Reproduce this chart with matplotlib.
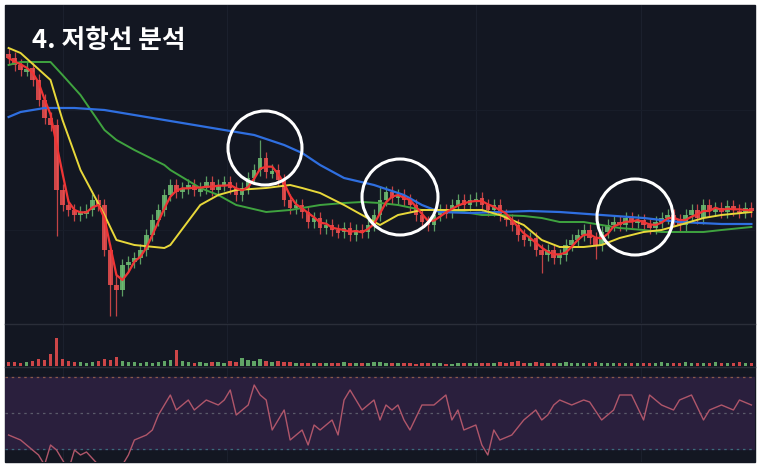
import matplotlib
matplotlib.use("Agg")
import matplotlib.pyplot as plt
import numpy as np
import pandas as pd
from matplotlib.patches import Ellipse

plt.rcParams['font.family'] = ['Noto Sans CJK KR', 'DejaVu Sans']

# close prices (arbitrary units)
close_px = [58,65,70,68,80,100,118,125,190,205,210,215,212,210,200,205,250,285,290,265,
            262,258,250,235,220,210,195,185,192,188,185,190,188,182,190,185,182,188,195,188,
            178,170,158,172,170,180,200,208,205,212,222,218,228,225,230,232,228,235,230,232,
            225,215,200,192,198,195,200,205,215,222,225,215,210,212,205,200,205,200,198,205,
            210,205,215,220,225,235,240,238,250,255,250,258,255,245,240,235,230,238,245,232,
            225,222,225,218,222,220,225,228,222,218,215,220,225,215,210,218,205,210,208,212,
            206,210,212,208,211]
close = [330 - v for v in close_px]
open_ = [close[0] + 4] + close[:-1]
wick_extra = {8: (0, 40), 17: (0, 25), 18: (5, 20), 42: (12, 0), 62: (8, 0), 89: (0, 12), 98: (0, 8)}
volume = [4,4,3,4,5,7,6,12,28,7,5,4,4,3,4,5,7,6,9,5,
          4,4,3,4,3,4,5,6,16,5,4,3,4,3,4,4,3,5,4,8,
          6,5,7,5,4,5,4,4,3,3,3,3,3,3,3,3,4,3,3,3,
          3,4,4,3,3,3,3,3,2,3,3,3,3,2,2,3,3,3,3,3,
          3,3,4,3,4,5,3,3,4,3,3,3,3,4,3,3,3,3,4,3,
          3,3,3,3,3,3,3,3,3,4,3,3,3,4,3,3,3,3,4,3,
          3,3,4,3,3]

# moving averages sampled (candle index, value)
ma_x = [0,2,7,9,12,16,18,21,26,27,32,35,38,43,47,49,52,56,59,62,65,69,72,76,79,82,86,89,92,96,
        99,102,106,109,112,116,119,124]
yellow_px = [48,53,80,120,170,215,240,245,248,245,205,195,190,188,185,188,193,205,215,225,215,210,
             210,210,210,215,225,240,247,247,245,238,232,230,225,218,215,212]
green_px = [65,62,62,75,95,130,140,150,165,170,188,195,205,212,210,208,205,203,202,203,205,210,
            210,212,215,215,216,218,222,222,225,228,230,232,232,232,230,227]
blue_x = [0,2,6,11,16,21,26,31,36,41,46,49,52,56,61,66,69,72,77,82,87,92,99,106,112,119,124]
blue_px = [117,112,108,108,110,115,120,125,130,135,145,153,165,178,185,195,205,212,213,212,211,212,
           215,218,222,224,224]

rsi_x = [0,2,3,5,6,7,8,9,10,11,12,13,15,17,19,20,21,23,24,25,26,27,28,30,31,33,35,36,37,38,40,41,42,43,44,
         46,47,48,49,50,51,52,54,55,56,57,59,61,62,63,64,65,66,67,69,71,72,73,74,75,76,78,79,80,81,82,
         84,86,88,89,90,91,92,94,96,97,99,101,102,104,106,107,109,111,112,114,116,117,119,121,122,124]
rsi_px = [435,440,445,455,465,445,450,460,470,450,455,452,465,470,465,455,440,435,430,415,405,395,410,
          400,410,400,405,400,390,415,405,385,395,400,430,410,440,435,430,445,425,430,420,435,400,390,410,
          400,420,405,410,405,420,430,405,405,400,395,420,410,430,425,445,455,430,440,435,420,410,420,415,
          405,400,405,400,402,420,410,395,395,420,395,405,410,400,395,420,410,405,410,400,405]
rsi = [50 - (p - 413) / 1.8 for p in rsi_px]

W, H = 763, 471
fig = plt.figure(figsize=(W/100, H/100), dpi=100, facecolor='white')
fig.patches.append(plt.Rectangle((5/W, 1-462/H), 750/W, 457/H, transform=fig.transFigure,
                                 color='#131722', zorder=-5))
bg = '#131722'
def ax_at(x0, y0, x1, y1):
    a = fig.add_axes([x0/W, 1-y1/H, (x1-x0)/W, (y1-y0)/H])
    a.set_facecolor(bg)
    a.set_xlim(-0.6, len(close)-0.4)
    for s in a.spines.values():
        s.set_visible(False)
    a.set_xticks([]); a.set_yticks([])
    for gx in [9, 36.5, 78, 105.5]:
        a.axvline(gx, color='#1b202d', lw=0.8, zorder=0)
    return a

ax = ax_at(5, 5, 755, 323)
ax.set_ylim(7, 325)
for gy in [100, 220]:
    ax.axhline(gy, color='#181d29', lw=0.8, zorder=0)
up_c, dn_c = '#6fbf73', '#ef4f4f'
for i in range(len(close)):
    o, c = open_[i], close[i]
    col = up_c if c >= o else dn_c
    eh, el = wick_extra.get(i, (0, 0))
    hi = max(o, c) + 6 + eh
    lo = min(o, c) - 6 - el
    ax.vlines(i, lo, hi, color=col, lw=0.9, alpha=0.8, zorder=2)
    ax.bar(i, max(abs(c-o), 3), bottom=min(o, c) - (1.5 if abs(c-o) < 3 else 0), width=0.75,
           color=col, alpha=0.85, zorder=2)

ax.plot(ma_x, [330-v for v in green_px], color='#3fa33f', lw=1.4, zorder=3)
ax.plot(blue_x, [330-v for v in blue_px], color='#2f6fe0', lw=1.6, zorder=3)
ax.plot(ma_x, [330-v for v in yellow_px], color='#e8d83a', lw=1.4, zorder=3)
red = pd.Series(close).rolling(3, min_periods=1).mean()
ax.plot(range(len(close)), red, color='#f03535', lw=1.6, zorder=4)

ax.text(27/750, 1-35/318, '4. 저항선 분석', transform=ax.transAxes, color='white',
        fontsize=18.5, fontweight='bold', va='center', ha='left', zorder=6)

for (cx, cy, r) in [(265, 148, 37), (400, 197, 38), (635, 217, 38)]:
    fig.patches.append(Ellipse((cx/W, 1-cy/H), 2*r/W, 2*r/H, transform=fig.transFigure,
                               fill=False, edgecolor='white', lw=2.2, zorder=10))

axv = ax_at(5, 324, 755, 366)
axv.set_ylim(0, 42)
for i, v in enumerate(volume):
    col = up_c if close[i] >= open_[i] else dn_c
    axv.bar(i, v, width=0.6, color=col, alpha=0.85)
fig.add_artist(plt.Line2D([5/W, 755/W], [1-323.5/H, 1-323.5/H], color='#2a2e39', lw=1))
fig.add_artist(plt.Line2D([5/W, 755/W], [1-366.5/H, 1-366.5/H], color='#2a2e39', lw=1))

axr = ax_at(5, 367, 755, 462)
axr.set_ylim(50 - (462-413)/1.8, 50 + (413-367)/1.8)
axr.axhspan(30, 70, color='#2a1f3d', zorder=0)
axr.axhline(70, color='#8a5a4a', lw=0.9, ls=(0, (2, 3)))
axr.axhline(50, color='#5a5a6a', lw=0.9, ls=(0, (2, 3)))
axr.axhline(30, color='#3a6a7a', lw=0.9, ls=(0, (2, 3)))
axr.plot(rsi_x, rsi, color='#b0566a', lw=1.0)

fig.savefig('out.png', dpi=100, facecolor='white')
